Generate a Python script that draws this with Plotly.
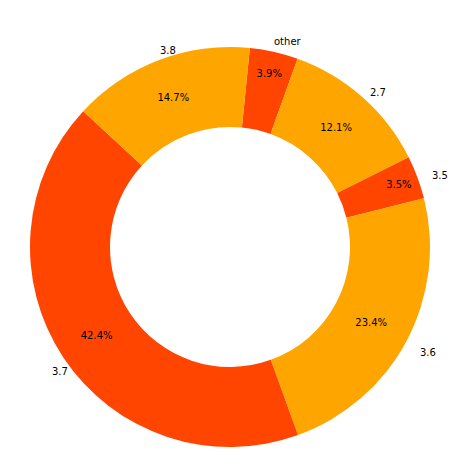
import numpy as np
import plotly.graph_objects as go

labels = ["other", "2.7", "3.5", "3.6", "3.7", "3.8"]
shares = [3.9, 12.1, 3.5, 23.4, 42.4, 14.7]
colors = ["#FF4500", "#FFA500", "#FF4500", "#FFA500", "#FF4500", "#FFA500"]

W = 474
cx, cy, r = 230, 246, 200
start = 5.7  # degrees clockwise from top
dx, dy = -8, -7  # plotly draws the pie a bit off the domain centre

fig = go.Figure(go.Pie(
    labels=labels, values=shares, sort=False, direction="clockwise",
    rotation=start, hole=0.6,
    marker=dict(colors=colors, line=dict(width=0)),
    texttemplate="%{value:.1f}%", textposition="inside",
    insidetextorientation="horizontal",
    textfont=dict(family="DejaVu Sans", size=10, color="black"),
    domain=dict(x=[(cx + dx - r) / W, (cx + dx + r) / W],
                y=[1 - (cy + dy + r) / W, 1 - (cy + dy - r) / W]),
    showlegend=False, hoverinfo="skip",
))

# category labels just outside the ring, placed at each slice's middle angle
tot = sum(shares)
cum = np.cumsum([0] + shares)
for i, lab in enumerate(labels):
    mid = np.radians(start + 360 * (cum[i] + shares[i] / 2) / tot)
    rx = r * 1.13
    x = cx + rx * np.sin(mid)
    y = cy - rx * np.cos(mid)
    fig.add_annotation(x=x / W, y=1 - y / W, xref="paper", yref="paper", text=lab,
                       showarrow=False, font=dict(family="DejaVu Sans", size=10, color="black"))

fig.update_layout(width=W, height=W, margin=dict(l=0, r=0, t=0, b=0),
                  paper_bgcolor="white", plot_bgcolor="white")
fig.write_html("out.html")
